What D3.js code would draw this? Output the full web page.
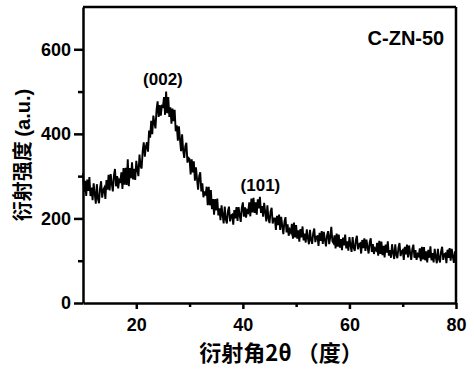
<!DOCTYPE html>
<head>
<meta charset="utf-8">
<style>
  body { margin:0; background:#fff; }
  svg { display:block; }
  .tick text { font-family: "Liberation Sans", Arial, sans-serif; font-weight:bold; font-size:18px; fill:#000; }
  .axis path, .axis line { stroke:#000; stroke-width:2.5px; }
  .lbl { font-family: "Liberation Sans", Arial, sans-serif; font-weight:bold; fill:#000; }
</style>
<script src="https://d3js.org/d3.v7.min.js"></script>
</head>
<body>
<script>

var width = 474, height = 370;
var margin = {top: 7, right: 18, bottom: 67, left: 83};
var w = width - margin.left - margin.right;
var h = height - margin.top - margin.bottom;

// scan: 2theta from 10 to 80 deg, step 0.2
var startAngle = 10, stepAngle = 0.2;
var intensity = [
  307,263,289,253,292, 265,298,253,273,243, 283,258,235,281,247, 236,272,288,249,268,
  273,246,291,268,303, 266,305,282,264,301, 317,276,300,271,290, 284,309,270,319,280,
  320,279,340,276,319, 295,333,292,317,291, 336,316,300,351,324, 318,359,380,346,370,
  380,358,408,391,431, 399,443,426,413,456, 477,440,468,443,466, 464,487,445,500,449,
  487,440,463,424,460, 430,457,406,420,384, 418,387,359,399,360, 343,371,379,332,343,
  340,304,340,309,335, 289,321,293,268,300, 309,264,283,250,264, 254,275,231,275,231,
  267,222,246,209,246, 219,247,207,224,196, 231,208,188,228,198, 188,217,228,193,207,
  209,185,220,200,227, 194,227,208,192,225, 238,204,226,202,219, 215,238,205,247,214,
  249,213,238,209,245, 224,251,213,229,204, 237,214,193,231,201, 189,216,225,188,200,
  200,173,206,184,209, 173,204,181,163,192, 203,167,186,159,173, 167,187,152,190,155,
  184,152,172,145,175, 155,181,148,164,143, 174,154,139,173,149, 140,165,176,144,157,
  158,135,166,147,170, 140,168,149,134,160, 170,139,156,180,146, 142,160,129,164,133,
  162,131,151,125,155, 136,162,129,146,124, 156,137,121,156,131, 123,148,159,127,139,
  141,117,149,130,153, 123,150,132,117,143, 153,121,139,116,129, 125,142,112,147,116,
  145,113,135,108,138, 119,146,112,125,107, 139,119,104,139,114, 106,131,142,111,122,
  125,102,133,115,138, 108,136,118,102,128, 138,107,125,102,115, 111,129,99,133,103,
  132,101,122,96,126, 107,134,101,118,96, 128,109,94,128,104, 96,122,133,102,115,
  117,94,126,107,130, 100,128,110,95,122, 112
];

var xTicks = [20, 40, 60, 80];
var xMinor = [30, 50, 70];
var yTicks = [0, 200, 400, 600];
var yMinor = [100, 300, 500];

var peaks = [
  {name: "(002)", x: 25, y: 515},
  {name: "(101)", x: 43.3, y: 264}
];
var sampleName = "C-ZN-50";

var data = intensity.map(function(v, i) { return [startAngle + i * stepAngle, v]; });

var svg = d3.select("body").append("svg")
    .attr("width", width).attr("height", height);
var g = svg.append("g").attr("transform", "translate(" + margin.left + "," + margin.top + ")");

var x = d3.scaleLinear().domain([10, 80]).range([0, w]);
var y = d3.scaleLinear().domain([0, 700]).range([h, 0]);

// data line
g.append("path")
    .datum(data)
    .attr("fill", "none")
    .attr("stroke", "#000")
    .attr("stroke-width", 1.9)
    .attr("d", d3.line().x(function(d) { return x(d[0]); }).y(function(d) { return y(d[1]); }));

// frame top/right
g.append("line").attr("x1", 0).attr("x2", w).attr("y1", 0).attr("y2", 0)
    .attr("stroke", "#000").attr("stroke-width", 2.5);
g.append("line").attr("x1", w).attr("x2", w).attr("y1", 0).attr("y2", h)
    .attr("stroke", "#000").attr("stroke-width", 2.5);

// minor ticks
g.append("g").attr("class", "axis")
    .attr("transform", "translate(0," + h + ")")
    .call(d3.axisBottom(x).tickValues(xMinor).tickSize(4).tickFormat(""))
    .select(".domain").remove();
g.append("g").attr("class", "axis")
    .call(d3.axisLeft(y).tickValues(yMinor).tickSize(5).tickFormat(""))
    .select(".domain").remove();

// major axes
g.append("g").attr("class", "axis")
    .attr("transform", "translate(0," + h + ")")
    .call(d3.axisBottom(x).tickValues(xTicks).tickSize(6).tickPadding(9).tickSizeOuter(0));
g.append("g").attr("class", "axis")
    .call(d3.axisLeft(y).tickValues(yTicks).tickSize(9).tickPadding(3).tickSizeOuter(0));

// peak labels
g.selectAll(".peak")
    .data(peaks)
  .enter().append("text")
    .attr("class", "lbl")
    .attr("x", function(d) { return x(d.x); })
    .attr("y", function(d) { return y(d.y); })
    .attr("text-anchor", "middle")
    .attr("font-size", 17)
    .text(function(d) { return d.name; });

g.append("text")
    .attr("class", "lbl")
    .attr("x", x(70.6)).attr("y", 38)
    .attr("text-anchor", "middle")
    .attr("font-size", 20)
    .text(sampleName);

// axis titles
svg.append("text")
    .attr("x", 281).attr("y", 361)
    .attr("text-anchor", "middle")
    .attr("font-family", "'Noto Sans CJK SC', sans-serif")
    .attr("font-weight", "bold")
    .attr("font-size", 22)
    .text("衍射角2θ （度）");

var yt = svg.append("text")
    .attr("transform", "translate(30,155) rotate(-90)")
    .attr("text-anchor", "middle")
    .attr("font-family", "'Noto Sans CJK SC', sans-serif")
    .attr("font-weight", "bold")
    .attr("font-size", 20);
yt.append("tspan").text("衍射强度 ");
yt.append("tspan").attr("font-family", "'Liberation Sans', Arial, sans-serif").attr("font-weight", "bold").text("(a.u.)");

</script>
</body>
